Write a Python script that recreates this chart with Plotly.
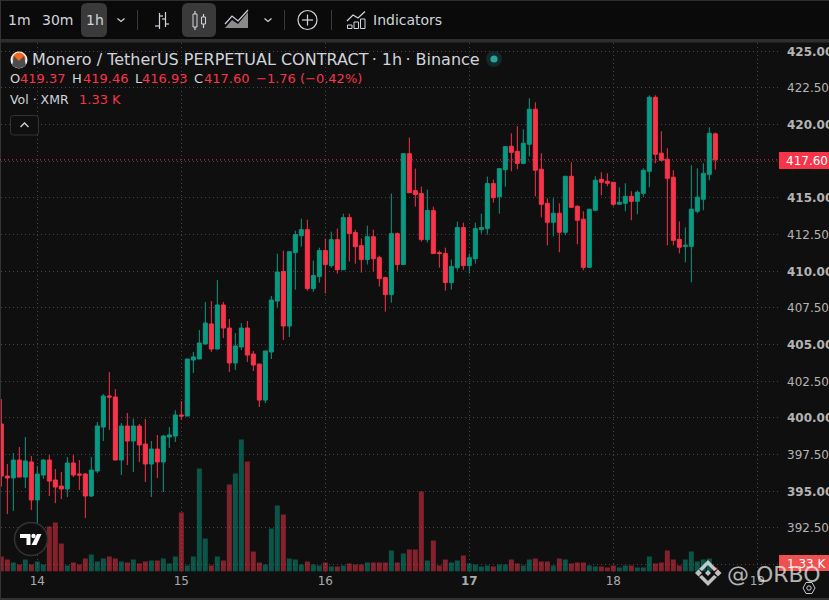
import pandas as pd
import plotly.graph_objects as go

W = 829
H = 600

# hourly bars, first one is 18:00 the day before the "14" tick
hours = pd.date_range("2025-08-13 18:00", periods=120, freq="h")

opens = [399.59,396.04,395.91,397.13,395.97,397.00,394.41,396.11,397.13,395.77,395.36,395.16,396.93,396.18,396.18,394.68,
         396.38,399.38,401.50,401.43,397.13,399.45,398.43,399.45,398.22,396.86,397.88,397.00,398.70,398.77,400.20,400.13,
         403.95,404.02,405.04,406.41,404.70,407.70,406.13,403.75,404.84,406.13,404.36,403.68,401.22,404.50,407.97,409.98,
         406.27,411.27,412.43,412.84,408.82,409.64,411.41,410.39,412.16,410.11,413.66,412.64,411.75,410.80,412.36,410.93,
         409.57,408.41,412.57,410.46,418.02,415.50,415.30,412.16,414.14,411.27,411.21,409.23,410.25,412.98,410.39,410.86,
         412.84,412.91,415.98,415.09,416.93,418.52,418.18,417.36,418.66,421.05,416.96,414.64,413.34,413.96,412.66,416.48,
         414.43,413.55,410.27,414.16,416.27,416.14,416.07,414.57,414.64,415.11,414.77,415.32,416.82,421.86,418.05,417.64,
         416.41,412.18,411.70,411.70,414.09,414.91,416.61,419.37]
highs = [401.29,396.86,397.61,398.02,398.70,397.41,396.72,397.20,397.47,396.52,396.32,397.34,397.47,397.13,396.25,397.34,
         399.72,401.63,403.13,401.97,399.66,400.34,399.95,399.59,399.93,398.43,398.84,398.84,399.38,400.54,401.16,404.02,
         404.50,406.00,407.91,407.97,409.41,407.91,406.75,405.79,406.47,406.61,404.57,403.68,404.57,408.32,411.20,411.41,
         411.34,412.77,413.59,413.52,410.73,411.61,412.23,412.71,412.91,413.93,413.93,412.84,412.23,413.11,412.84,411.07,
         409.64,415.30,412.64,418.02,419.11,417.00,415.77,415.57,414.41,411.41,411.61,410.80,413.39,413.32,411.21,413.32,
         413.93,416.46,416.25,417.00,418.52,419.41,419.89,419.68,421.80,421.52,418.05,414.98,414.98,414.64,416.48,417.43,
         414.50,414.09,414.23,416.48,416.75,416.68,416.07,415.73,416.00,415.46,415.52,417.02,422.00,422.00,419.55,418.39,
         416.89,413.41,413.00,417.23,417.02,417.36,419.82,419.46]
lows = [395.32,393.45,393.66,395.97,395.22,393.72,392.82,395.84,394.68,394.20,394.47,394.61,395.97,395.09,393.18,394.61,
        396.25,398.43,399.18,397.13,396.11,396.79,396.32,397.00,395.63,394.61,395.91,394.95,397.95,398.36,399.86,400.13,
        403.07,404.02,405.04,404.50,404.70,405.45,403.13,403.27,404.63,403.82,403.20,400.75,401.02,404.02,407.52,405.32,
        405.52,408.75,411.68,408.68,408.61,409.23,408.48,410.25,409.84,410.11,410.66,410.52,409.91,410.46,409.98,408.96,
        407.25,407.86,410.05,410.46,415.36,414.41,412.02,411.96,411.21,410.25,408.68,408.75,410.05,410.11,409.84,410.52,
        412.57,412.50,414.68,413.93,415.77,416.82,416.96,417.30,417.84,415.11,413.68,411.77,412.39,411.30,412.46,414.36,
        411.84,410.07,410.27,414.16,415.18,415.80,414.43,414.57,414.09,413.48,413.89,415.05,415.73,417.36,417.57,411.77,
        411.77,411.23,410.61,409.25,413.96,414.16,416.21,416.93]
closes = [396.04,395.91,397.13,395.97,397.07,394.41,396.18,397.13,395.70,395.29,395.16,396.93,396.11,396.11,394.68,396.45,
          399.45,401.50,401.43,397.13,399.45,398.43,399.45,398.16,396.86,397.88,397.00,398.77,398.84,400.20,400.13,404.02,
          404.16,405.11,406.47,404.70,407.70,406.13,403.75,404.91,406.13,404.29,403.61,401.22,404.57,408.04,409.95,406.27,
          411.34,412.50,412.84,408.82,409.71,411.41,410.46,412.16,410.11,413.66,412.57,411.68,410.80,412.36,410.86,409.50,
          408.41,412.57,410.46,418.02,415.36,415.23,412.16,414.14,411.21,411.21,409.23,410.32,412.98,410.39,410.93,412.91,
          412.98,415.98,415.02,417.00,418.50,418.11,417.36,418.73,421.05,416.89,414.57,413.34,413.96,412.66,416.48,414.36,
          413.48,410.27,414.23,416.21,416.07,416.00,414.57,414.71,415.11,414.77,415.39,416.89,421.86,417.98,417.57,416.34,
          412.11,411.64,411.77,414.23,415.05,416.68,419.41,417.60]

# volume in thousands
volumes = [5.0,4.0,3.0,2.33,4.0,2.33,3.33,2.33,15.0,16.33,9.33,2.0,3.0,2.33,4.33,5.67,
           3.33,4.33,5.0,4.33,3.33,3.0,4.0,2.67,3.33,3.67,3.67,4.33,2.67,5.0,19.67,2.0,
           5.0,34.33,11.0,2.0,5.0,3.67,29.0,32.67,44.0,36.67,6.67,3.0,2.33,14.33,22.0,19.0,
           4.33,4.0,2.33,3.33,2.33,2.0,3.0,1.67,1.67,2.0,2.67,2.33,2.33,3.0,3.0,3.0,
           3.0,7.0,3.0,6.0,7.33,7.33,26.67,3.67,10.33,2.0,4.0,3.0,3.67,5.33,2.67,2.33,
           1.67,2.0,1.67,2.33,2.33,4.0,2.67,2.0,4.0,4.33,3.33,3.33,2.0,4.33,4.0,2.67,
           3.0,3.0,2.0,1.67,1.67,1.33,2.0,1.33,2.0,2.0,1.33,1.33,5.0,2.67,3.0,7.0,
           4.0,2.0,4.0,6.67,3.33,4.0,4.33,1.33]

day_ticks = ["2025-08-14", "2025-08-15", "2025-08-16", "2025-08-17", "2025-08-18", "2025-08-19"]
day_labels = ["14", "15", "16", "<b>17</b>", "18", "19"]

price_ticks = [390 + 2.5 * i for i in range(15)]
price_labels = [""] + [f"<b>{p:.2f}</b>" if p % 5 == 0 else f"{p:.2f}" for p in price_ticks[1:]]

UP = "#089981"
DOWN = "#f7344a"
BG = "#0f0f0f"
BAR_BG = "#0a0a0a"
GRID = "#464646"
TXT = "#d1d4dc"
FONT = "DejaVu Sans"


def px(x):
    return x / W


def py(y):
    return 1 - y / H


def path(points, close=False):
    s = "M " + " L ".join(f"{px(x):.5f},{py(y):.5f}" for x, y in points)
    return s + (" Z" if close else "")


shapes = []
annos = []


def rect(x0, y0, x1, y1, fill, line=None, layer="above"):
    shapes.append(dict(type="rect", xref="paper", yref="paper", x0=px(x0), x1=px(x1), y0=py(y0), y1=py(y1),
                       fillcolor=fill, line=dict(width=1 if line else 0, color=line or fill), layer=layer))


def rrect(x0, y0, x1, y1, r, fill, line=None):
    d = (f"M {px(x0+r)},{py(y0)} L {px(x1-r)},{py(y0)} Q {px(x1)},{py(y0)} {px(x1)},{py(y0+r)} "
         f"L {px(x1)},{py(y1-r)} Q {px(x1)},{py(y1)} {px(x1-r)},{py(y1)} L {px(x0+r)},{py(y1)} "
         f"Q {px(x0)},{py(y1)} {px(x0)},{py(y1-r)} L {px(x0)},{py(y0+r)} Q {px(x0)},{py(y0)} {px(x0+r)},{py(y0)} Z")
    shapes.append(dict(type="path", xref="paper", yref="paper", path=d, fillcolor=fill,
                       line=dict(width=1 if line else 0, color=line or fill)))


def circle(cx, cy, r, fill, line=None, lw=1):
    shapes.append(dict(type="circle", xref="paper", yref="paper", x0=px(cx-r), x1=px(cx+r), y0=py(cy-r), y1=py(cy+r),
                       fillcolor=fill, line=dict(width=lw if line else 0, color=line or fill)))


def stroke(points, color=TXT, lw=1.2):
    shapes.append(dict(type="path", xref="paper", yref="paper", path=path(points),
                       line=dict(width=lw, color=color)))


def poly(points, fill):
    shapes.append(dict(type="path", xref="paper", yref="paper", path=path(points, True),
                       fillcolor=fill, line=dict(width=0, color=fill)))


def text(x, y, s, color=TXT, size=13, anchor="left"):
    annos.append(dict(xref="paper", yref="paper", x=px(x), y=py(y), text=s, showarrow=False, xanchor=anchor,
                      yanchor="middle", font=dict(family=FONT, size=size, color=color), borderpad=0, borderwidth=0))


# toolbar
rect(0, 0, W, 39, BAR_BG)
rect(0, 39, W, 42.5, "#2e2e2e")
rect(0, 0, W, 1, "#2e2e2e")
rect(0, 0, 1, H, "#333333")
rect(0, 598, W, H, "#333333")
rrect(81, 3, 107, 37, 6, "#3a3a3a")
rrect(182, 3, 216, 37, 6, "#3a3a3a")
text(8, 20, "1m", size=14)
text(42, 20, "30m", size=14)
text(86, 20, "1h", size=14)
text(373, 20, "Indicators", size=14)
for cx in (121, 268):
    stroke([(cx-3.5, 18.5), (cx, 21.5), (cx+3.5, 18.5)])
for sx in (137.5, 284.5, 331.5):
    stroke([(sx, 10), (sx, 30)], "#3a3a3a", 1)
# bar style icon
stroke([(159.5, 13), (159.5, 29)])
stroke([(155, 26), (159.5, 26)])
stroke([(159.5, 16), (163, 16)])
stroke([(165.5, 12), (165.5, 27)])
stroke([(165.5, 24), (169, 24)])
stroke([(162, 19), (165.5, 19)])
# candle style icon
stroke([(195, 11), (195, 30)])
rect(193, 14, 197, 27, "#3a3a3a", TXT)
stroke([(203.5, 14), (203.5, 28)])
rect(201.5, 17, 205.5, 24, "#3a3a3a", TXT)
# area icon
poly([(225, 28), (232, 20), (238, 24), (248, 12), (248, 28)], "#8a8a8a")
stroke([(225, 24), (232, 16), (238, 21), (248, 10)])
# plus button
circle(307.5, 20, 9.5, "rgba(0,0,0,0)", TXT, 1.2)
stroke([(307.5, 14.5), (307.5, 25.5)])
stroke([(302, 20), (313, 20)])
# indicators icon
stroke([(347, 21), (353, 15), (358, 18), (365, 11.5)])
for bx, top in ((347.5, 25), (354, 22), (360.5, 19)):
    rect(bx, top, bx+4.5, 28.5, BAR_BG, TXT)

# legend block
circle(19, 60, 8.5, "#f2f2f2")
circle(19, 59, 6.5, "#f26822")
poly([(12, 66), (14, 56), (19, 61), (24, 56), (26, 66), (19, 68.5)], "#4c4c4c")
text(32, 60, "Monero / TetherUS PERPETUAL CONTRACT\u2009· 1h\u2009· Binance", "#d1d4dc", 16)
circle(494, 59, 8, "#12282a")
circle(494, 59, 3.6, "#26a69a")
for lx, vx, name, val in ((10, 20, "O", "419.37"), (72, 83, "H", "419.46"), (134.5, 142, "L", "416.93"), (194, 204, "C", "417.60")):
    text(lx, 79, name, TXT, 13)
    text(vx, 79, val, DOWN, 13)
text(255.5, 79, "−1.76 (−0.42%)", DOWN, 13)
text(10, 100, "Vol · XMR", TXT, 12.5)
text(79, 100, "1.33 K", DOWN, 13)
rrect(10.5, 115.5, 38.5, 135, 3, BG, "#333333")
stroke([(20.5, 127), (24.5, 123), (28.5, 127)], TXT, 1.3)

# current price line and tags
shapes.append(dict(type="line", xref="paper", yref="y", x0=0, x1=px(779), y0=closes[-1], y1=closes[-1],
                   line=dict(color=DOWN, width=1, dash="1px,3px"), layer="above"))
rect(779, 152, W, 169, DOWN)
text(786, 160.5, f"{closes[-1]:.2f}", "#ffffff", 12)
rect(779, 555, W, 571, "#f05050")
text(787, 563.5, f"{volumes[-1]:.2f} K", "#ffffff", 12)

# tradingview badge
circle(31, 539, 16.5, BG, "#333333", 1.5)
poly([(20, 534), (30.5, 534), (30.5, 545), (26.5, 545), (26.5, 538), (20, 538)], "#ffffff")
circle(33.5, 536, 2.2, "#ffffff")
poly([(37, 534), (41.5, 534), (36.5, 545), (31.5, 545)], "#ffffff")

# watermark and settings
WM = "rgba(235,235,235,0.8)"
for cx, cy in ((698.5, 573), (718, 573)):
    poly([(cx-3.5, cy), (cx, cy-3.5), (cx+3.5, cy), (cx, cy+3.5)], WM)
poly([(708, 570), (711, 573), (708, 576), (705, 573)], WM)
poly([(708, 560), (717, 569), (714, 571), (708, 565), (702, 571), (699, 569)], WM)
poly([(708, 586), (717, 577), (714, 575), (708, 581), (702, 575), (699, 577)], WM)
text(727, 574, "@ ORBO", "rgba(235,235,235,0.75)", 22)
stroke([(803, 588), (806, 582.5), (812, 582.5), (815, 588), (812, 593.5), (806, 593.5), (803, 588)], "#c8c8c8", 1)
circle(809, 588, 2.2, "rgba(0,0,0,0)", "#c8c8c8", 1)

vol_colors = ["rgba(8,153,129,0.5)" if c >= o else "rgba(247,52,74,0.5)" for o, c in zip(opens, closes)]

fig = go.Figure()
fig.add_trace(go.Bar(x=hours, y=volumes, marker=dict(color=vol_colors, line=dict(width=0)), yaxis="y2"))
fig.add_trace(go.Candlestick(x=hours, open=opens, high=highs, low=lows, close=closes, yaxis="y", whiskerwidth=0,
                             increasing=dict(line=dict(color=UP, width=1), fillcolor=UP),
                             decreasing=dict(line=dict(color=DOWN, width=1), fillcolor=DOWN)))

day0 = pd.Timestamp(day_ticks[0])
fig.update_layout(
    width=W, height=H, margin=dict(l=0, r=0, t=0, b=0, autoexpand=False), autosize=False,
    paper_bgcolor=BG, plot_bgcolor=BG, showlegend=False, bargap=0.17, boxgap=0.33, boxgroupgap=0,
    font=dict(family=FONT, color="#b4b4b4", size=12),
    xaxis=dict(type="date", domain=[px(1), px(778)], rangeslider=dict(visible=False),
               range=[day0 + pd.Timedelta(hours=(1 - 37.33) / 6), day0 + pd.Timedelta(hours=(778 - 37.33) / 6)],
               tickmode="array", tickvals=day_ticks, ticktext=day_labels, showgrid=True, gridcolor=GRID,
               griddash="1px,3px", gridwidth=1, zeroline=False, showline=False, ticks="", anchor="y",
               tickfont=dict(family=FONT, size=12, color="#ababab")),
    yaxis=dict(domain=[py(571.5), py(42.5)], range=[410 - (571.5 - 271.3) / 14.667, 410 + (271.3 - 42.5) / 14.667],
               side="right", overlaying="y2", anchor="x", tickmode="array", tickvals=price_ticks,
               ticktext=price_labels, showgrid=True, gridcolor=GRID, griddash="1px,3px", gridwidth=1,
               zeroline=False, showline=False, ticks="", ticklabelstandoff=8,
               tickfont=dict(family=FONT, size=12, color="#b4b4b4")),
    yaxis2=dict(domain=[py(571.5), py(42.5)], range=[0, (571.5 - 42.5) / 3], visible=False, anchor="x"),
    shapes=shapes, annotations=annos,
)

fig.write_html("out.html", config={"displayModeBar": False},
               post_script="document.body.style.margin='0';document.body.style.overflow='hidden';")
